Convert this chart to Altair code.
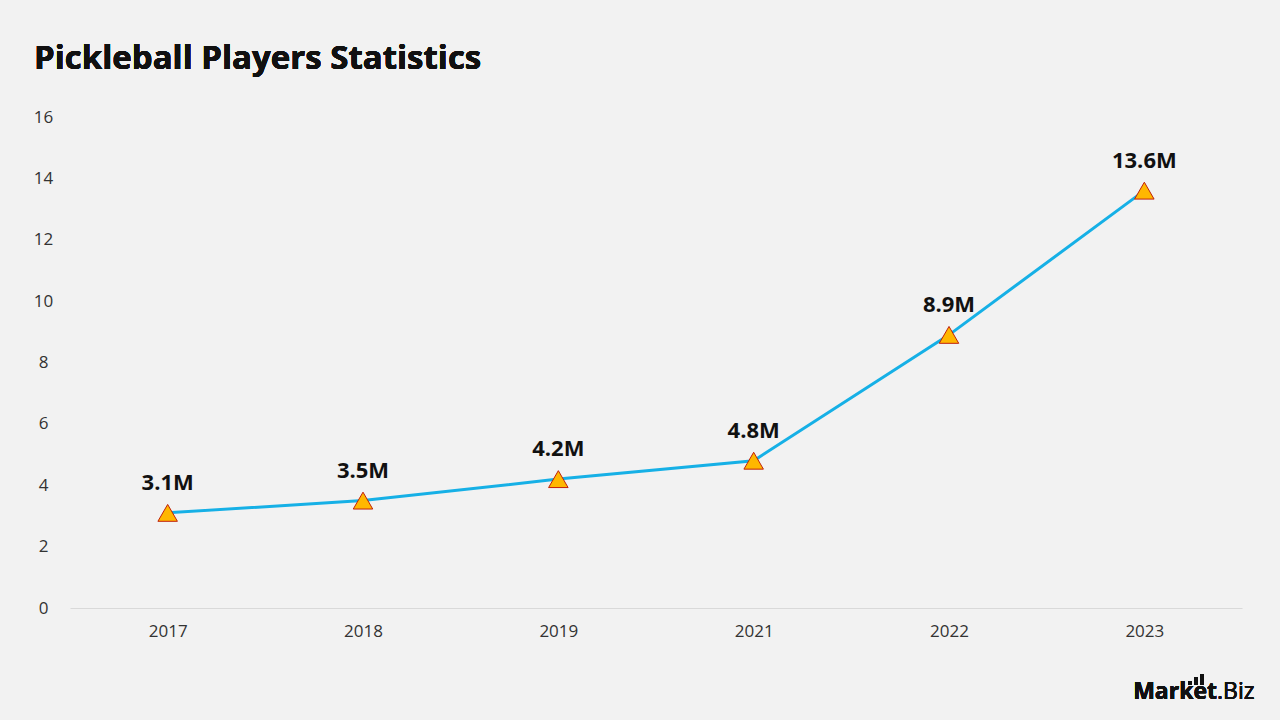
import altair as alt
import pandas as pd

# Pickleball players in the US, millions
years = ["2017", "2018", "2019", "2021", "2022", "2023"]
players = [3.1, 3.5, 4.2, 4.8, 8.9, 13.6]
labels = ["3.1M", "3.5M", "4.2M", "4.8M", "8.9M", "13.6M"]

df = pd.DataFrame({"year": years, "players": players, "label": labels})

FONT = "Open Sans"
LEFT, TOP = 70, 117  # plot-area origin inside the 1280x720 canvas

x = alt.X(
    "year:N",
    sort=years,
    title=None,
    scale=alt.Scale(paddingInner=0, paddingOuter=0.5),
    axis=alt.Axis(
        labelAngle=0,
        labelFont=FONT,
        labelFontSize=17,
        labelColor="#333333",
        labelPadding=15,
        ticks=False,
        domainColor="#d9d9d9",
        domainWidth=1,
        grid=False,
    ),
)
y = alt.Y(
    "players:Q",
    title=None,
    scale=alt.Scale(domain=[0, 16], nice=False),
    axis=alt.Axis(
        values=[0, 2, 4, 6, 8, 10, 12, 14, 16],
        labelFont=FONT,
        labelFontSize=17,
        labelColor="#333333",
        labelAlign="center",
        labelPadding=27,
        ticks=False,
        domain=False,
        grid=False,
    ),
)

base = alt.Chart(df).encode(x=x, y=y)

line = base.mark_line(color="#16b0e6", strokeWidth=3)
points = base.mark_point(
    shape="triangle-up",
    size=380,
    filled=True,
    fill="#ffb700",
    stroke="#c0200a",
    strokeWidth=1,
    opacity=1,
)
values = base.mark_text(
    font=FONT,
    fontSize=22,
    fontWeight="bold",
    color="#111111",
    baseline="alphabetic",
    dy=-23,
).encode(text="label:N")

title = alt.Chart(df).mark_text(
    text="Pickleball Players Statistics",
    font=FONT,
    fontSize=33,
    fontWeight="bold",
    color="#111111",
    align="left",
    baseline="alphabetic",
).encode(x=alt.value(34 - LEFT), y=alt.value(69 - TOP))

# "Market.Biz" wordmark in the bottom-right corner
brand_bold = alt.Chart(df).mark_text(
    text="Market",
    font=FONT,
    fontSize=23,
    fontWeight="bold",
    color="#111111",
    align="right",
    baseline="alphabetic",
).encode(x=alt.value(1217 - LEFT), y=alt.value(699 - TOP))

brand_light = alt.Chart(df).mark_text(
    text=".Biz",
    font=FONT,
    fontSize=23,
    color="#111111",
    align="left",
    baseline="alphabetic",
).encode(x=alt.value(1217 - LEFT), y=alt.value(699 - TOP))

logo_bars = [
    alt.Chart(df).mark_rule(color="#111111", strokeWidth=3.5).encode(
        x=alt.value(bx - LEFT), y=alt.value(top - TOP), y2=alt.value(685 - TOP)
    )
    for bx, top in [(1190, 681), (1196, 677), (1202, 674)]
]

chart = (
    alt.layer(line, points, values, title, brand_bold, brand_light, *logo_bars)
    .properties(
        width=1172,
        height=491,
        background="#f2f2f2",
        padding={"left": LEFT, "top": TOP, "right": 38, "bottom": 112},
        autosize=alt.AutoSizeParams(type="none"),
    )
    .configure_view(stroke=None)
)

chart.save("out.html", embed_options={"renderer": "svg", "actions": False})
